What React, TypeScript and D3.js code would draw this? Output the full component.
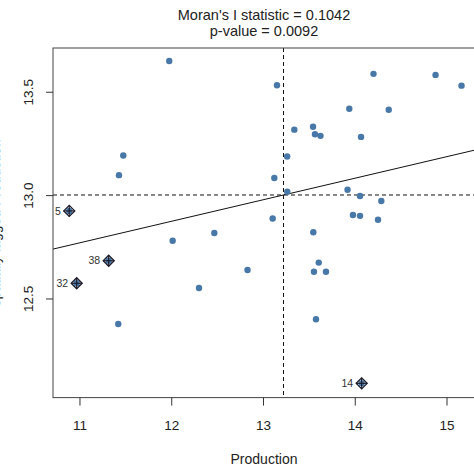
import * as React from "react";
import * as d3 from "d3";

// Moran scatterplot: Production vs its spatial lag
const production = [
  11.973, 13.147, 14.199, 14.875, 15.158, 13.935, 14.365, 13.336, 13.540, 13.561,
  13.621, 14.063, 11.472, 13.258, 11.425, 13.118, 13.259, 13.916, 14.052, 14.284,
  13.975, 14.052, 14.248, 13.100, 13.543, 12.010, 12.464, 12.826, 12.297, 13.602,
  13.550, 13.681, 13.572, 11.417,
  10.883, 11.313, 10.964, 14.070
];
const lagged = [
  13.651, 13.534, 13.589, 13.584, 13.532, 13.420, 13.415, 13.319, 13.333, 13.297,
  13.289, 13.284, 13.194, 13.189, 13.099, 13.085, 13.019, 13.028, 12.998, 12.974,
  12.906, 12.902, 12.883, 12.889, 12.823, 12.782, 12.819, 12.640, 12.553, 12.676,
  12.632, 12.632, 12.402, 12.379,
  12.926, 12.685, 12.576, 12.092
];
// influential observations (drawn with diamond-plus and labelled)
const flaggedIndex = [34, 35, 36, 37];
const flaggedLabel = ["5", "38", "32", "14"];

const xTicks = [11, 12, 13, 14, 15];
const yTicks = [12.5, 13.0, 13.5];

const meanProduction = 13.218;
const meanLagged = 13.003;
const moranI = 0.1042;
const pValue = 0.0092;

const xDomain = [10.706, 15.305];
const yDomain = [12.023, 13.714];

export default function App() {
  const width = 474;
  const height = 474;
  const m = { left: 53, right: 475, top: 48, bottom: 397.6 };

  const x = d3.scaleLinear().domain(xDomain).range([m.left, m.right]);
  const y = d3.scaleLinear().domain(yDomain).range([m.bottom, m.top]);

  const font = "'Liberation Sans', Arial, Helvetica, sans-serif";
  const pointColor = "#4878a8";

  // regression line through the means with slope = Moran's I
  const fit = (v: number) => meanLagged + moranI * (v - meanProduction);
  const line = d3.line<number>().x(v => x(v)).y(v => y(fit(v)));

  const diamond = 5.5;

  return (
    <svg width={width} height={height} style={{ position: "absolute", left: 0, top: 0, background: "#fff" }}>
      <rect width={width} height={height} fill="#fff" />

      <text x={(m.left + m.right) / 2} y={20} textAnchor="middle" fontFamily={font} fontSize={14.5} fill="#222">
        {`Moran's I statistic = ${moranI.toFixed(4)}`}
      </text>
      <text x={(m.left + m.right) / 2} y={36} textAnchor="middle" fontFamily={font} fontSize={14.5} fill="#222">
        {`p-value = ${pValue.toFixed(4)}`}
      </text>

      {/* dashed mean lines */}
      <line x1={x(meanProduction)} x2={x(meanProduction)} y1={m.top} y2={m.bottom}
        stroke="#111" strokeWidth={1} strokeDasharray="4,3" />
      <line x1={m.left} x2={m.right} y1={y(meanLagged)} y2={y(meanLagged)}
        stroke="#111" strokeWidth={1} strokeDasharray="4,3" />

      <path d={line([xDomain[0], xDomain[1]]) || ""} fill="none" stroke="#111" strokeWidth={1} />

      {production.map((v, i) => (
        <circle key={i} cx={x(v)} cy={y(lagged[i])} r={3.2} fill={pointColor} />
      ))}

      {flaggedIndex.map((idx, k) => {
        const cx = x(production[idx]);
        const cy = y(lagged[idx]);
        return (
          <g key={k}>
            <path d={`M${cx},${cy - diamond}L${cx + diamond},${cy}L${cx},${cy + diamond}L${cx - diamond},${cy}Z`}
              fill="none" stroke="#1b1b2a" strokeWidth={1.3} />
            <line x1={cx - diamond} x2={cx + diamond} y1={cy} y2={cy} stroke="#1b1b2a" strokeWidth={1.2} />
            <line x1={cx} x2={cx} y1={cy - diamond} y2={cy + diamond} stroke="#1b1b2a" strokeWidth={1.2} />
            <text x={cx - 8.5} y={cy + 3.6} textAnchor="end" fontFamily={font} fontSize={10.5} fill="#333">
              {flaggedLabel[k]}
            </text>
          </g>
        );
      })}

      {/* plot box */}
      <rect x={m.left} y={m.top} width={m.right - m.left} height={m.bottom - m.top}
        fill="none" stroke="#444" strokeWidth={1} />

      {/* x axis */}
      {xTicks.map(t => (
        <g key={t}>
          <line x1={x(t)} x2={x(t)} y1={m.bottom} y2={m.bottom + 8} stroke="#333" strokeWidth={1} />
          <text x={x(t)} y={429.5} textAnchor="middle" fontFamily={font} fontSize={13.5} fill="#222">{t}</text>
        </g>
      ))}
      <text x={(m.left + m.right) / 2} y={464} textAnchor="middle" fontFamily={font} fontSize={14} fill="#222">
        Production
      </text>

      {/* y axis */}
      {yTicks.map(t => (
        <g key={t}>
          <line x1={m.left - 7} x2={m.left} y1={y(t)} y2={y(t)} stroke="#333" strokeWidth={1} />
          <text transform={`translate(33.3,${y(t)}) rotate(-90)`} textAnchor="middle"
            fontFamily={font} fontSize={13.5} fill="#222">{t.toFixed(1)}</text>
        </g>
      ))}
      <text transform={`translate(-0.5,${(m.top + m.bottom) / 2}) rotate(-90)`} textAnchor="middle"
        fontFamily={font} fontSize={14} fill="#222">
        spatially lagged Production
      </text>
    </svg>
  );
}
